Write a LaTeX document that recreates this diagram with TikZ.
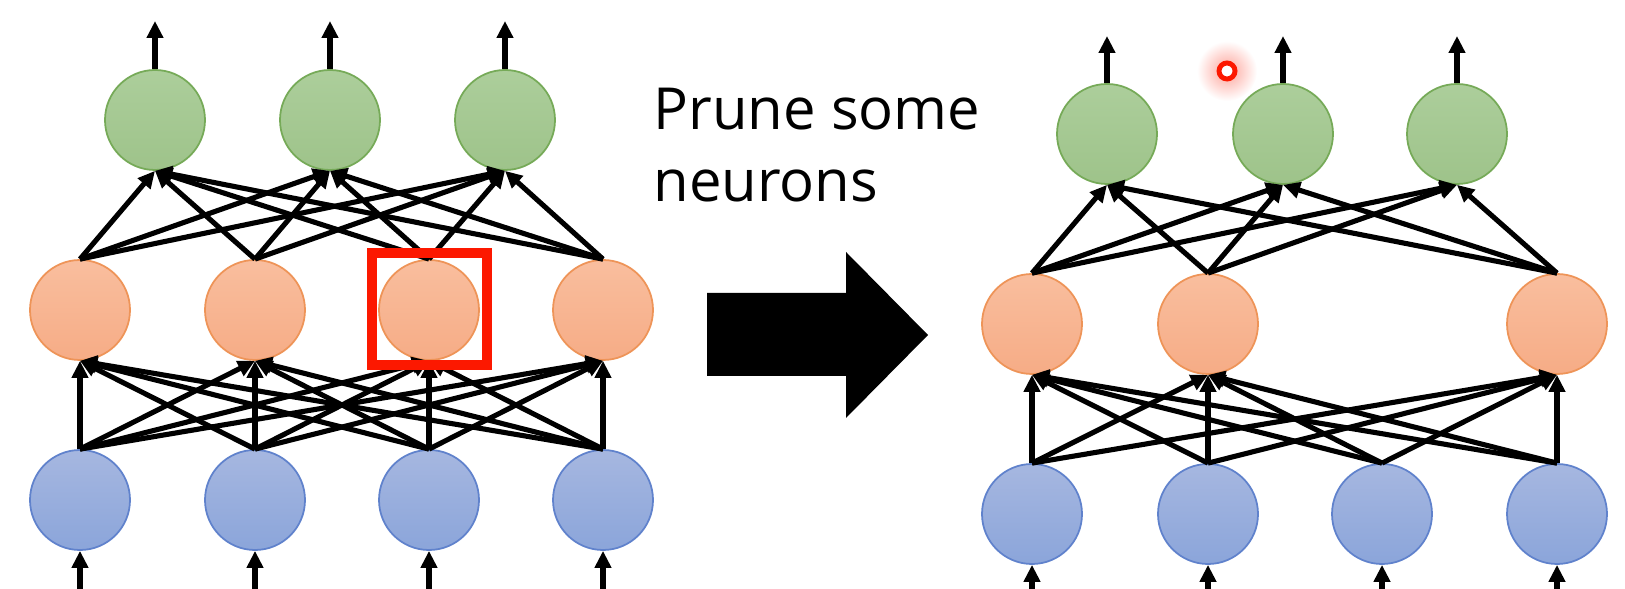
\documentclass[tikz,border=0pt]{standalone}
\usepackage{fontspec}
\setmainfont{Open Sans}
\usepackage{xcolor}
\usetikzlibrary{arrows.meta}

\definecolor{intop}{RGB}{166,183,224}
\definecolor{inbottom}{RGB}{139,165,218}
\definecolor{inborder}{RGB}{96,130,204}
\definecolor{hidtop}{RGB}{249,190,158}
\definecolor{hidbottom}{RGB}{246,172,134}
\definecolor{hidborder}{RGB}{238,148,88}
\definecolor{outtop}{RGB}{172,206,155}
\definecolor{outbottom}{RGB}{158,195,138}
\definecolor{outborder}{RGB}{118,170,88}
\definecolor{marker}{RGB}{252,24,0}

\tikzset{
    unit/.style={circle, minimum size=1cm, inner sep=0pt, line width=0.5pt},
    inunit/.style={unit, draw=inborder, top color=intop, bottom color=inbottom},
    hidunit/.style={unit, draw=hidborder, top color=hidtop, bottom color=hidbottom},
    outunit/.style={unit, draw=outborder, top color=outtop, bottom color=outbottom},
    link/.style={line width=1.45pt, -{Triangle[length=1.7mm,width=1.6mm]}},
    prunebox/.style={draw=marker, line width=0.1cm}
}

\begin{document}
\begin{tikzpicture}
    \useasboundingbox (0,0) rectangle (16.25,5.89);
    % full network
    \foreach \i/\x in {1/0.80,2/2.55,3/4.29,4/6.03} {
        \node[inunit] (li\i) at (\x,0.89) {};
        \node[hidunit] (lh\i) at (\x,2.79) {};
        \coordinate (lb\i) at (\x,0);
    }
    \foreach \k/\x in {1/1.55,2/3.30,3/5.05} {
        \node[outunit] (lo\k) at (\x,4.69) {};
        \coordinate (lt\k) at (\x,5.68);
    }
    \foreach \i in {1,...,4} {
        \draw[link] (lb\i) -- (li\i.south);
        \foreach \j in {1,...,4} \draw[link] (li\i.north) -- (lh\j.south);
        \foreach \k in {1,2,3} \draw[link] (lh\i.north) -- (lo\k.south);
    }
    \foreach \k in {1,2,3} \draw[link] (lo\k.north) -- (lt\k);
    \draw[prunebox] (3.72,2.24) rectangle (4.87,3.36);

    \node[anchor=base west, align=left, inner sep=0pt,
        font=\fontsize{16.5}{20.5}\selectfont]
        (prune) at (6.53,3.87) {Prune some\\neurons};
    \fill (7.07,2.13) -- (7.07,2.96) -- (8.46,2.96) -- (8.46,3.37)
        -- (9.28,2.54) -- (8.46,1.71) -- (8.46,2.13) -- cycle;

    % pruned network
    \foreach \i/\x in {1/10.32,2/12.08,3/13.82,4/15.57} {
        \node[inunit] (ri\i) at (\x,0.75) {};
        \coordinate (rb\i) at (\x,0);
    }
    \foreach \j/\x in {1/10.32,2/12.08,4/15.57}
        \node[hidunit] (rh\j) at (\x,2.65) {};
    \foreach \k/\x in {1/11.07,2/12.83,3/14.57} {
        \node[outunit] (ro\k) at (\x,4.55) {};
        \coordinate (rt\k) at (\x,5.53);
    }
    \foreach \i in {1,...,4} {
        \draw[link] (rb\i) -- (ri\i.south);
        \foreach \j in {1,2,4} \draw[link] (ri\i.north) -- (rh\j.south);
    }
    \foreach \j in {1,2,4}
        \foreach \k in {1,2,3} \draw[link] (rh\j.north) -- (ro\k.south);
    \foreach \k in {1,2,3} \draw[link] (ro\k.north) -- (rt\k);

    % pointer
    \shade[inner color=marker!40, outer color=white] (12.27,5.18) circle (0.3);
    \draw[marker, line width=1.4pt, fill=white] (12.27,5.18) circle (0.08);
\end{tikzpicture}
\end{document}
